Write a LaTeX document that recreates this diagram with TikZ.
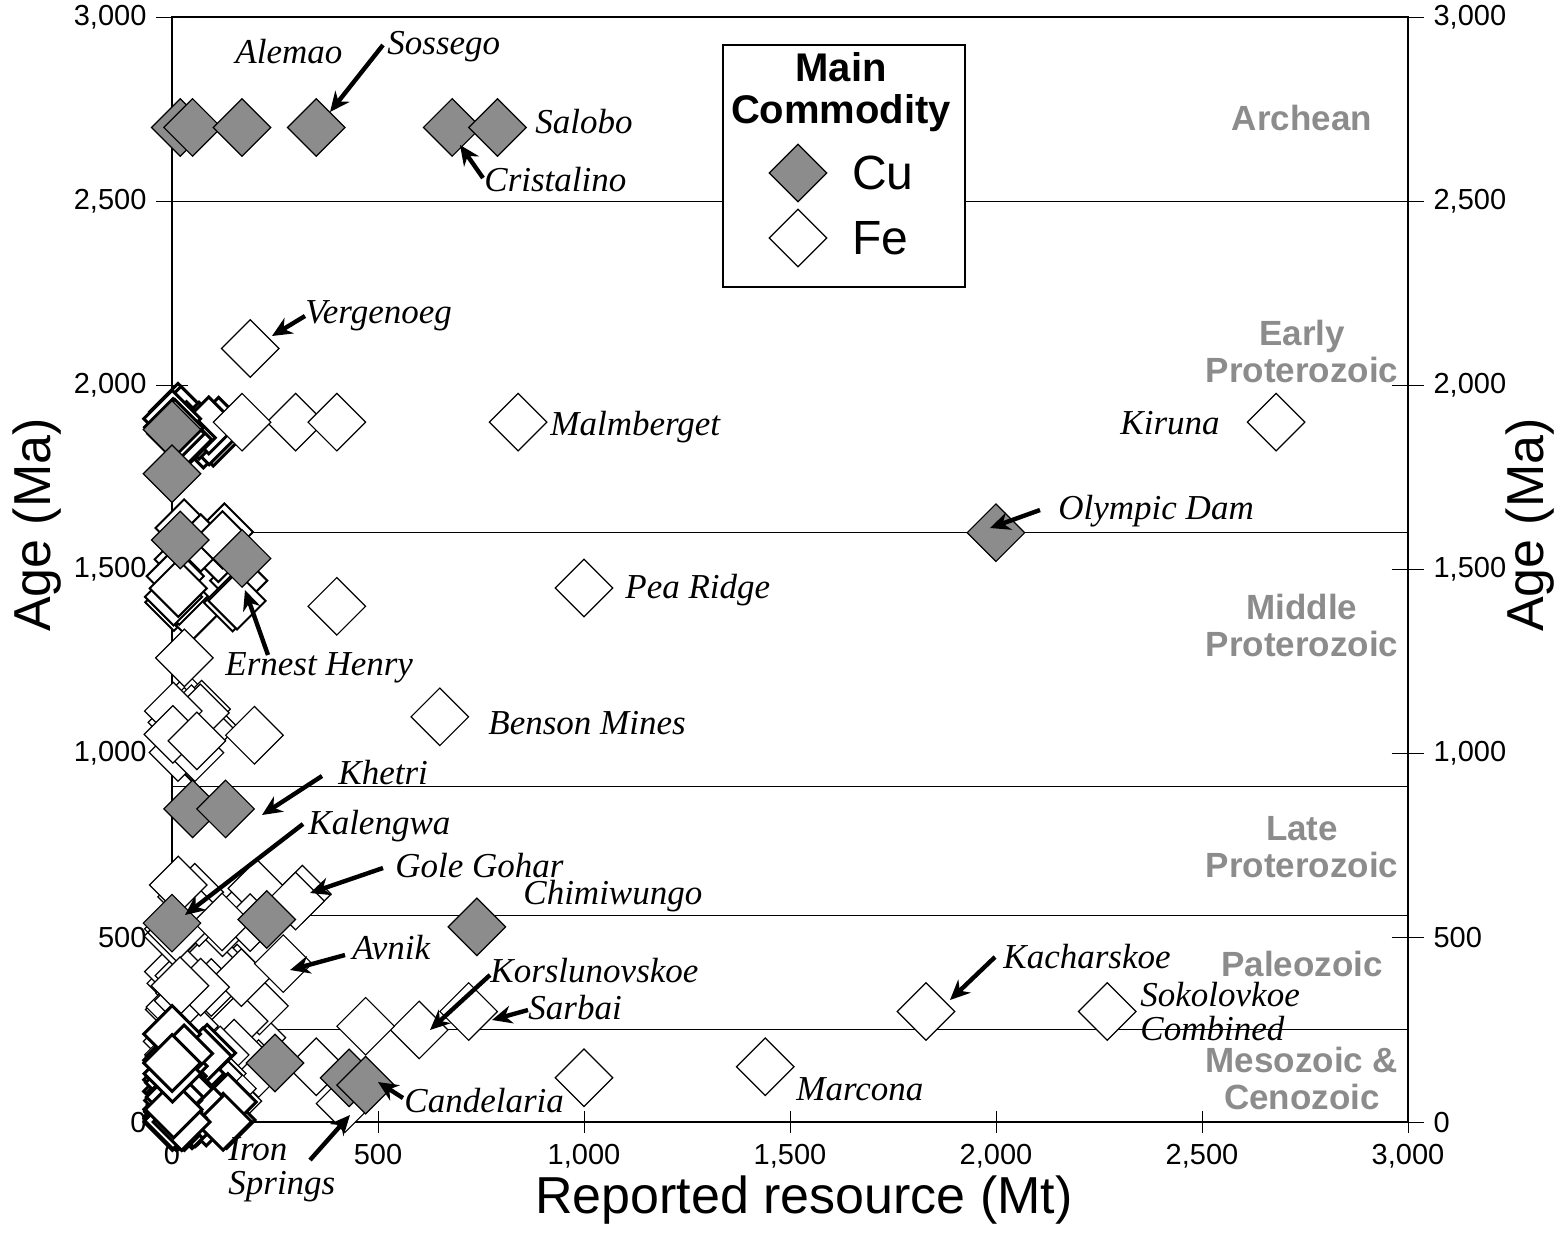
\documentclass[tikz,border=0pt]{standalone}
\usepackage{fontspec}
\setmainfont{Liberation Serif}
\setsansfont{Liberation Sans}
\usetikzlibrary{shapes.geometric,arrows.meta}
\tikzset{
 mk/.style={diamond,draw=black,line width=0.6pt,inner sep=0pt,minimum width=29pt,minimum height=29pt},
 cu/.style={mk,fill=black!45},
 fe/.style={mk,fill=white},
 dk/.style={mk,fill=white,line width=1.5pt},
 lab/.style={font=\itshape\fontsize{17.5}{17}\selectfont,anchor=west,inner sep=1pt},
 era/.style={font=\sffamily\bfseries\fontsize{17.5}{18.5}\selectfont,text=black!45,align=center},
 tk/.style={font=\sffamily\fontsize{14.5}{14.5}\selectfont},
 ttl/.style={font=\sffamily\fontsize{26}{26}\selectfont},
 arr/.style={line width=2.2pt,-{Stealth[length=10pt,width=9pt]}},
}
\begin{document}
\begin{tikzpicture}[x=0.5pt,y=-0.5pt]
\useasboundingbox (0,0) rectangle (1567,1237);
\begin{scope}[shift={(172,1122)},x=0.206pt,y=0.18417pt]
\draw[line width=0.7pt] (0,0) rectangle (3000,3000);
\foreach \a in {2500,1600,912,562,252} \draw[line width=0.5pt] (0,\a) -- (3000,\a);
\foreach \v/\t in {0/0,500/500,1000/{1,000},1500/{1,500},2000/{2,000},2500/{2,500},3000/{3,000}}{
 \draw (\v,30) -- (\v,-30);
 \node[tk,anchor=north] at (\v,-40) {\t};}
\foreach \v/\t in {0/0,500/500,1000/{1,000},1500/{1,500},2000/{2,000},2500/{2,500},3000/{3,000}}{
 \draw (-40,\v) -- (40,\v); \draw (2960,\v) -- (3040,\v);
 \node[tk,anchor=east] at (-45,\v) {\t};
 \node[tk,anchor=west] at (3045,\v) {\t};}
\pgfmathsetseed{11}
\foreach \i in {1,...,70}{
 \pgfmathsetmacro\vx{rnd*rnd*330}
 \pgfmathsetmacro\vy{rnd*650}
 \node[fe,name=r\i] at (\vx,\vy) {};}
\foreach \i in {1,...,70}{
 \pgfmathsetmacro\vx{rnd*rnd*150}
 \pgfmathsetmacro\vy{rnd*rnd*280}
 \node[dk,name=k\i] at (\vx,\vy) {};}
\foreach \i in {1,...,25}{
 \pgfmathsetmacro\vx{rnd*90}
 \pgfmathsetmacro\vy{1000+rnd*140}
 \node[fe,name=m\i] at (\vx,\vy) {};}
\foreach \i in {1,...,18}{
 \pgfmathsetmacro\vx{rnd*rnd*220}
 \pgfmathsetmacro\vy{1380+rnd*240}
 \node[fe,line width=1pt,name=p\i] at (\vx,\vy) {};}
\foreach \i in {1,...,18}{
 \pgfmathsetmacro\vx{rnd*rnd*180}
 \pgfmathsetmacro\vy{1840+rnd*90}
 \node[dk,name=q\i] at (\vx,\vy) {};}
\node[fe] (verg) at (190,2100) {};
\node[fe] (f1) at (300,1900) {};
\node[fe] (f2) at (400,1900) {};
\node[fe] (f3) at (170,1900) {};
\node[fe] (malm) at (840,1900) {};
\node[fe] (kir) at (2680,1900) {};
\node[fe] (pea) at (1000,1450) {};
\node[fe] (f4) at (400,1400) {};
\node[fe] (f5) at (30,1260) {};
\node[fe] (f6) at (200,1050) {};
\node[fe] (ben) at (650,1100) {};
\node[fe] (gole) at (300,600) {};
\node[fe] (avn) at (270,430) {};
\node[fe] (kach) at (1830,300) {};
\node[fe] (sok) at (2270,300) {};
\node[fe] (marc) at (1440,150) {};
\node[fe] (f7) at (1000,120) {};
\node[fe] (kors) at (600,250) {};
\node[fe] (sarb) at (720,300) {};
\node[fe] (f8) at (470,260) {};
\node[fe] (f9) at (350,150) {};
\node[fe] (iron) at (420,50) {};
\node[cu] (c1) at (20,2700) {};
\node[cu] (ale) at (50,2700) {};
\node[cu] (c2) at (170,2700) {};
\node[cu] (soss) at (350,2700) {};
\node[cu] (cris) at (680,2700) {};
\node[cu] (salo) at (790,2700) {};
\node[cu] (c3) at (0,1880) {};
\node[cu] (c4) at (0,1760) {};
\node[cu] (c5) at (20,1580) {};
\node[cu] (ern) at (170,1530) {};
\node[cu] (oly) at (2000,1600) {};
\node[cu] (c6) at (50,850) {};
\node[cu] (khet) at (130,850) {};
\node[cu] (c7) at (0,540) {};
\node[cu] (c8) at (230,550) {};
\node[cu] (chim) at (740,530) {};
\node[cu] (c9) at (250,160) {};
\node[cu] (c10) at (430,120) {};
\node[cu] (cand) at (470,100) {};
\end{scope}
\node[draw,fill=white,line width=1pt,minimum width=121pt,minimum height=121pt] (leg) at (844,166) {};
\node[font=\sffamily\bfseries\fontsize{20}{21}\selectfont,align=center] (legt) at (841,92) {Main\\Commodity};
\node[cu] (lcu) at (798,173) {};
\node[fe] (lfe) at (798,238) {};
\node[font=\sffamily\fontsize{24}{24}\selectfont,anchor=west] (tcu) at (845,173) {Cu};
\node[font=\sffamily\fontsize{24}{24}\selectfont,anchor=west] (tfe) at (845,238) {Fe};
\node[era] (e1) at (1302,118) {Archean};
\node[era] (e2) at (1302,351) {Early\\Proterozoic};
\node[era] (e3) at (1302,625) {Middle\\Proterozoic};
\node[era] (e4) at (1302,847) {Late\\Proterozoic};
\node[era] (e5) at (1302,964) {Paleozoic};
\node[era] (e6) at (1302,1078) {Mesozoic \&\\Cenozoic};
\node[ttl,rotate=90] (yl) at (37,525) {Age (Ma)};
\node[ttl,rotate=90] (yr) at (1530,525) {Age (Ma)};
\node[ttl] (xl) at (804,1200) {Reported resource (Mt)};
\node[lab] (lale) at (233,52) {Alemao};
\node[lab] (lsos) at (385,47) {Sossego};
\node[lab] (lsal) at (533,122) {Salobo};
\node[lab] (lcri) at (482,180) {Cristalino};
\node[lab] (lver) at (303,316) {Vergenoeg};
\node[lab] (lmal) at (548,427) {Malmberget};
\node[lab,anchor=east] (lkir) at (1222,423) {Kiruna};
\node[lab] (loly) at (1056,511) {Olympic Dam};
\node[lab] (lpea) at (623,590) {Pea Ridge};
\node[lab] (lern) at (223,668) {Ernest Henry};
\node[lab] (lben) at (486,723) {Benson Mines};
\node[lab] (lkhe) at (336,773) {Khetri};
\node[lab] (lkal) at (306,826) {Kalengwa};
\node[lab] (lgol) at (393,866) {Gole Gohar};
\node[lab] (lchi) at (521,896) {Chimiwungo};
\node[lab] (lavn) at (350,948) {Avnik};
\node[lab] (lkor) at (488,971) {Korslunovskoe};
\node[lab] (lsar) at (526,1008) {Sarbai};
\node[lab] (lkac) at (1001,957) {Kacharskoe};
\node[lab,align=left] (lsok) at (1138,1012) {Sokolovkoe\\Combined};
\node[lab] (lcan) at (402,1101) {Candelaria};
\node[lab] (lmar) at (794,1089) {Marcona};
\node[lab,align=left] (liro) at (226,1170) {Iron\\Springs};
\draw[arr] (383,45) -- (330,112);
\draw[arr] (483,178) -- (460,145);
\draw[arr] (305,316) -- (272,336);
\draw[arr] (1040,510) -- (990,528);
\draw[arr] (268,655) -- (245,590);
\draw[arr] (322,776) -- (262,815);
\draw[arr] (303,824) -- (185,915);
\draw[arr] (383,868) -- (310,893);
\draw[arr] (345,955) -- (290,970);
\draw[arr] (490,975) -- (430,1030);
\draw[arr] (528,1010) -- (492,1020);
\draw[arr] (995,957) -- (950,1000);
\draw[arr] (403,1098) -- (378,1082);
\draw[arr] (310,1160) -- (350,1115);
\end{tikzpicture}
\end{document}
